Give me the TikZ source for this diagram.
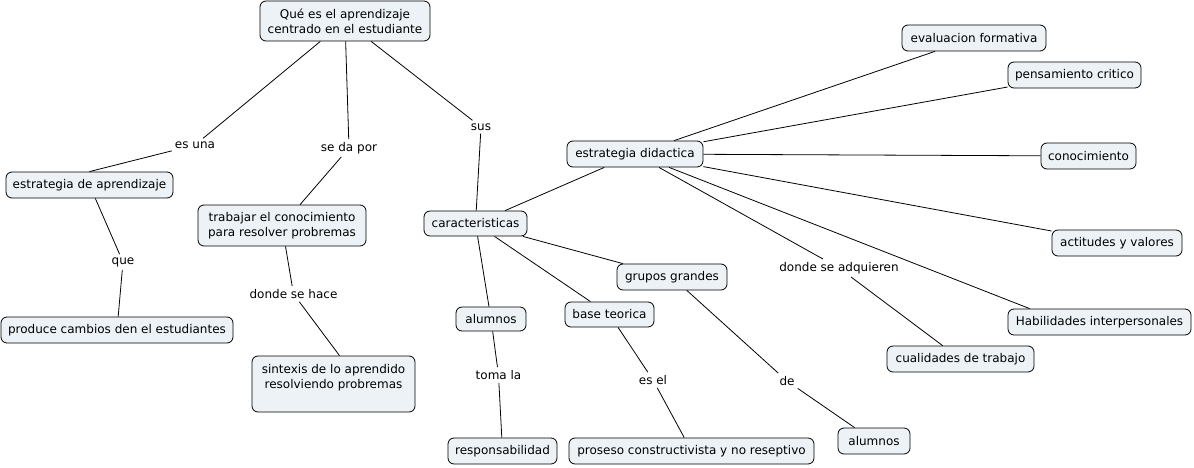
\documentclass[tikz,border=0pt]{standalone}
\usepackage{fontspec}
\setmainfont{DejaVu Sans}
\usetikzlibrary{calc}
\definecolor{boxfill}{RGB}{236,242,245}
\begin{document}
\begin{tikzpicture}[x=1pt,y=-1pt,
  every node/.style={font=\fontsize{12}{15}\selectfont},
  concept/.style={draw=black, line width=0.8pt, fill=boxfill, rounded corners=6pt, inner sep=0pt, align=center},
  lnk/.style={inner sep=3pt},
  conn/.style={draw=black, line width=0.8pt}]
\useasboundingbox (0,0) rectangle (1194,468);
% concepts
\node[concept, minimum width=170, minimum height=40] (root) at (345,21) {Qué es el aprendizaje\\centrado en el estudiante};
\node[concept, minimum width=167, minimum height=26] (ea) at (89.5,185) {estrategia de aprendizaje};
\node[concept, minimum width=232, minimum height=26] (prod) at (117,330) {produce cambios den el estudiantes};
\node[concept, minimum width=168, minimum height=41] (trab) at (282,225.5) {trabajar el conocimiento\\para resolver probremas};
\node[concept, minimum width=163, minimum height=56] (sint) at (333.5,384) {sintexis de lo aprendido\\resolviendo probremas\\\mbox{}};
\node[concept, minimum width=103, minimum height=25] (car) at (475.5,223.5) {caracteristicas};
\node[concept, minimum width=70, minimum height=24] (alu1) at (491,319) {alumnos};
\node[concept, minimum width=109, minimum height=26] (resp) at (502.5,451) {responsabilidad};
\node[concept, minimum width=89, minimum height=25] (base) at (609.5,314.5) {base teorica};
\node[concept, minimum width=245, minimum height=26] (pros) at (691.5,451) {proseso constructivista y no reseptivo};
\node[concept, minimum width=110, minimum height=26] (grup) at (672,277) {grupos grandes};
\node[concept, minimum width=72, minimum height=26] (alu2) at (874,441) {alumnos};
\node[concept, minimum width=136, minimum height=26] (ed) at (635,154) {estrategia didactica};
\node[concept, minimum width=144, minimum height=26] (ef) at (974,38) {evaluacion formativa};
\node[concept, minimum width=133, minimum height=26] (pc) at (1074.5,75) {pensamiento critico};
\node[concept, minimum width=95, minimum height=26] (con) at (1088.5,156) {conocimiento};
\node[concept, minimum width=130, minimum height=26] (act) at (1117,243) {actitudes y valores};
\node[concept, minimum width=183, minimum height=26] (hab) at (1099.5,322) {Habilidades interpersonales};
\node[concept, minimum width=147, minimum height=26] (cual) at (960.5,359) {cualidades de trabajo};
% link labels
\node[lnk] (esuna) at (195,145) {es una};
\node[lnk] (sedapor) at (349,148) {se da por};
\node[lnk] (sus) at (481,127) {sus};
\node[lnk] (que) at (123,262) {que};
\node[lnk] (dhace) at (293.5,294) {donde se hace};
\node[lnk] (toma) at (498.5,375) {toma la};
\node[lnk] (esel) at (653,380) {es el};
\node[lnk] (de) at (787,381) {de};
\node[lnk] (adq) at (839,268) {donde se adquieren};
% connectors
\draw[conn] (root) -- (esuna);
\draw[conn] (esuna) -- (ea.north);
\draw[conn] (root) -- (sedapor);
\draw[conn] (sedapor) -- (trab);
\draw[conn] (root) -- (sus);
\draw[conn] (sus) -- (car);
\draw[conn] (ea) -- (que);
\draw[conn] (que) -- (prod);
\draw[conn] (trab) -- (dhace);
\draw[conn] (dhace) -- ($(sint.north)+(6,0)$);
\draw[conn] (car) -- (alu1);
\draw[conn] (alu1) -- (toma);
\draw[conn] (toma) -- (resp);
\draw[conn] (car) -- (base);
\draw[conn] (base) -- (esel);
\draw[conn] (esel) -- (pros);
\draw[conn] (car) -- (grup);
\draw[conn] (grup) -- (de);
\draw[conn] (de) -- (alu2);
\draw[conn] (car) -- (ed);
\draw[conn] (ed) -- (ef);
\draw[conn] (ed) -- (pc);
\draw[conn] (ed) -- (con);
\draw[conn] (ed) -- (act);
\draw[conn] (ed) -- ($(hab.north west)+(22,0)$);
\draw[conn] (ed) -- (adq);
\draw[conn] (adq) -- (cual);
\end{tikzpicture}
\end{document}
